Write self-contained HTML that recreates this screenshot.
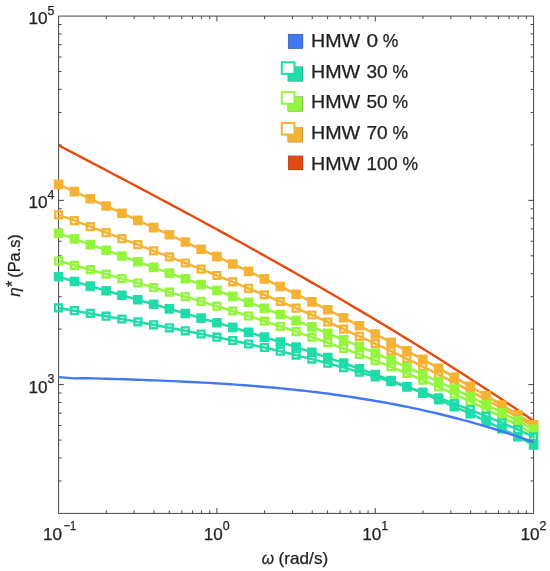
<!DOCTYPE html>
<html lang="en"><head><meta charset="utf-8"><title>Complex viscosity vs angular frequency</title>
<style>
html,body{margin:0;padding:0;background:#fff;}
body{width:550px;height:571px;overflow:hidden;}
svg{display:block;}
</style></head><body>
<svg width="550" height="571" viewBox="0 0 550 571">
<rect width="550" height="571" fill="#ffffff"/>
<g stroke="#474747" stroke-width="1" fill="none" shape-rendering="auto">
<rect x="58.6" y="16.1" width="475.0" height="497.29999999999995"/>
<path d="M106.26 513.4v-3.0M106.26 16.1v3.0M134.14 513.4v-3.0M134.14 16.1v3.0M153.93 513.4v-3.0M153.93 16.1v3.0M169.27 513.4v-3.0M169.27 16.1v3.0M181.81 513.4v-3.0M181.81 16.1v3.0M192.41 513.4v-3.0M192.41 16.1v3.0M201.59 513.4v-3.0M201.59 16.1v3.0M209.69 513.4v-3.0M209.69 16.1v3.0M216.93 513.4v-5.3M216.93 16.1v5.3M264.60 513.4v-3.0M264.60 16.1v3.0M292.48 513.4v-3.0M292.48 16.1v3.0M312.26 513.4v-3.0M312.26 16.1v3.0M327.60 513.4v-3.0M327.60 16.1v3.0M340.14 513.4v-3.0M340.14 16.1v3.0M350.74 513.4v-3.0M350.74 16.1v3.0M359.92 513.4v-3.0M359.92 16.1v3.0M368.02 513.4v-3.0M368.02 16.1v3.0M375.27 513.4v-5.3M375.27 16.1v5.3M422.93 513.4v-3.0M422.93 16.1v3.0M450.81 513.4v-3.0M450.81 16.1v3.0M470.59 513.4v-3.0M470.59 16.1v3.0M485.94 513.4v-3.0M485.94 16.1v3.0M498.47 513.4v-3.0M498.47 16.1v3.0M509.07 513.4v-3.0M509.07 16.1v3.0M518.26 513.4v-3.0M518.26 16.1v3.0M526.36 513.4v-3.0M526.36 16.1v3.0M58.6 480.95h3.0M533.6 480.95h-3.0M58.6 457.93h3.0M533.6 457.93h-3.0M58.6 440.08h3.0M533.6 440.08h-3.0M58.6 425.49h3.0M533.6 425.49h-3.0M58.6 413.15h3.0M533.6 413.15h-3.0M58.6 402.47h3.0M533.6 402.47h-3.0M58.6 393.04h3.0M533.6 393.04h-3.0M58.6 384.61h5.3M533.6 384.61h-5.3M58.6 329.14h3.0M533.6 329.14h-3.0M58.6 296.70h3.0M533.6 296.70h-3.0M58.6 273.68h3.0M533.6 273.68h-3.0M58.6 255.82h3.0M533.6 255.82h-3.0M58.6 241.23h3.0M533.6 241.23h-3.0M58.6 228.90h3.0M533.6 228.90h-3.0M58.6 218.21h3.0M533.6 218.21h-3.0M58.6 208.79h3.0M533.6 208.79h-3.0M58.6 200.36h5.3M533.6 200.36h-5.3M58.6 144.89h3.0M533.6 144.89h-3.0M58.6 112.44h3.0M533.6 112.44h-3.0M58.6 89.42h3.0M533.6 89.42h-3.0M58.6 71.57h3.0M533.6 71.57h-3.0M58.6 56.98h3.0M533.6 56.98h-3.0M58.6 44.64h3.0M533.6 44.64h-3.0M58.6 33.96h3.0M533.6 33.96h-3.0M58.6 24.53h3.0M533.6 24.53h-3.0"/>
</g>
<path d="M58.6 145.4 L64.6 148.5 L70.6 151.6 L76.6 154.8 L82.7 157.9 L88.7 161.1 L94.7 164.2 L100.7 167.4 L106.7 170.5 L112.7 173.7 L118.7 176.9 L124.7 180.0 L130.8 183.2 L136.8 186.4 L142.8 189.6 L148.8 192.8 L154.8 196.0 L160.8 199.2 L166.8 202.4 L172.8 205.6 L178.9 208.8 L184.9 212.1 L190.9 215.3 L196.9 218.5 L202.9 221.8 L208.9 225.1 L214.9 228.3 L220.9 231.6 L227.0 234.9 L233.0 238.2 L239.0 241.5 L245.0 244.8 L251.0 248.2 L257.0 251.5 L263.0 254.9 L269.0 258.2 L275.1 261.6 L281.1 265.0 L287.1 268.4 L293.1 271.8 L299.1 275.2 L305.1 278.6 L311.1 282.1 L317.1 285.5 L323.2 289.0 L329.2 292.5 L335.2 296.0 L341.2 299.5 L347.2 303.0 L353.2 306.6 L359.2 310.1 L365.2 313.7 L371.3 317.3 L377.3 320.9 L383.3 324.5 L389.3 328.1 L395.3 331.8 L401.3 335.5 L407.3 339.1 L413.3 342.8 L419.4 346.6 L425.4 350.3 L431.4 354.0 L437.4 357.8 L443.4 361.6 L449.4 365.4 L455.4 369.2 L461.4 373.1 L467.5 377.0 L473.5 380.9 L479.5 384.8 L485.5 388.7 L491.5 392.6 L497.5 396.6 L503.5 400.6 L509.5 404.6 L515.6 408.6 L521.6 412.7 L527.6 416.8 L533.6 420.9" fill="none" stroke="#e64a10" stroke-width="2.4" stroke-linejoin="round"/>
<path d="M58.6 184.4 L74.4 191.6 L90.3 198.8 L106.1 206.0 L121.9 213.2 L137.8 220.4 L153.6 227.6 L169.4 234.8 L185.3 242.0 L201.1 249.3 L216.9 256.6 L232.8 264.0 L248.6 271.4 L264.4 278.9 L280.3 286.5 L296.1 294.2 L311.9 301.9 L327.8 309.8 L343.6 317.7 L359.4 325.8 L375.3 334.0 L391.1 342.3 L406.9 350.8 L422.8 359.4 L438.6 368.2 L454.4 377.2 L470.3 386.3 L486.1 395.6 L501.9 405.1 L517.8 414.8 L533.6 424.7" fill="none" stroke="#f6b233" stroke-width="2.5"/>
<path d="M53.8 179.6h9.6v9.6h-9.6zM69.6 186.8h9.6v9.6h-9.6zM85.5 194.0h9.6v9.6h-9.6zM101.3 201.2h9.6v9.6h-9.6zM117.1 208.4h9.6v9.6h-9.6zM133.0 215.6h9.6v9.6h-9.6zM148.8 222.8h9.6v9.6h-9.6zM164.6 230.0h9.6v9.6h-9.6zM180.5 237.2h9.6v9.6h-9.6zM196.3 244.5h9.6v9.6h-9.6zM212.1 251.8h9.6v9.6h-9.6zM228.0 259.2h9.6v9.6h-9.6zM243.8 266.6h9.6v9.6h-9.6zM259.6 274.1h9.6v9.6h-9.6zM275.5 281.7h9.6v9.6h-9.6zM291.3 289.4h9.6v9.6h-9.6zM307.1 297.1h9.6v9.6h-9.6zM323.0 305.0h9.6v9.6h-9.6zM338.8 312.9h9.6v9.6h-9.6zM354.6 321.0h9.6v9.6h-9.6zM370.5 329.2h9.6v9.6h-9.6zM386.3 337.5h9.6v9.6h-9.6zM402.1 346.0h9.6v9.6h-9.6zM418.0 354.6h9.6v9.6h-9.6zM433.8 363.4h9.6v9.6h-9.6zM449.6 372.4h9.6v9.6h-9.6zM465.5 381.5h9.6v9.6h-9.6zM481.3 390.8h9.6v9.6h-9.6zM497.1 400.3h9.6v9.6h-9.6zM513.0 410.0h9.6v9.6h-9.6zM528.8 419.9h9.6v9.6h-9.6z" fill="#f6b233"/>
<path d="M58.6 214.8 L74.4 220.7 L90.3 226.7 L106.1 232.7 L121.9 238.7 L137.8 244.7 L153.6 250.8 L169.4 256.9 L185.3 263.0 L201.1 269.2 L216.9 275.5 L232.8 281.9 L248.6 288.3 L264.4 294.9 L280.3 301.5 L296.1 308.2 L311.9 315.0 L327.8 322.0 L343.6 329.1 L359.4 336.3 L375.3 343.6 L391.1 351.1 L406.9 358.8 L422.8 366.6 L438.6 374.6 L454.4 382.7 L470.3 391.1 L486.1 399.6 L501.9 408.4 L517.8 417.3 L533.6 426.5" fill="none" stroke="#f6b233" stroke-width="2.5"/>
<path d="M55.2 211.4h6.8v6.8h-6.8zM71.0 217.3h6.8v6.8h-6.8zM86.9 223.3h6.8v6.8h-6.8zM102.7 229.3h6.8v6.8h-6.8zM118.5 235.3h6.8v6.8h-6.8zM134.4 241.3h6.8v6.8h-6.8zM150.2 247.4h6.8v6.8h-6.8zM166.0 253.5h6.8v6.8h-6.8zM181.9 259.6h6.8v6.8h-6.8zM197.7 265.8h6.8v6.8h-6.8zM213.5 272.1h6.8v6.8h-6.8zM229.4 278.5h6.8v6.8h-6.8zM245.2 284.9h6.8v6.8h-6.8zM261.0 291.5h6.8v6.8h-6.8zM276.9 298.1h6.8v6.8h-6.8zM292.7 304.8h6.8v6.8h-6.8zM308.5 311.6h6.8v6.8h-6.8zM324.4 318.6h6.8v6.8h-6.8zM340.2 325.7h6.8v6.8h-6.8zM356.0 332.9h6.8v6.8h-6.8zM371.9 340.2h6.8v6.8h-6.8zM387.7 347.7h6.8v6.8h-6.8zM403.5 355.4h6.8v6.8h-6.8zM419.4 363.2h6.8v6.8h-6.8zM435.2 371.2h6.8v6.8h-6.8zM451.0 379.3h6.8v6.8h-6.8zM466.9 387.7h6.8v6.8h-6.8zM482.7 396.2h6.8v6.8h-6.8zM498.5 405.0h6.8v6.8h-6.8zM514.4 413.9h6.8v6.8h-6.8zM530.2 423.1h6.8v6.8h-6.8z" fill="none" stroke="#f6b233" stroke-width="2.4"/>
<path d="M58.6 233.2 L74.4 238.9 L90.3 244.6 L106.1 250.3 L121.9 256.0 L137.8 261.7 L153.6 267.4 L169.4 273.1 L185.3 278.8 L201.1 284.6 L216.9 290.5 L232.8 296.4 L248.6 302.3 L264.4 308.3 L280.3 314.5 L296.1 320.6 L311.9 326.9 L327.8 333.3 L343.6 339.8 L359.4 346.4 L375.3 353.2 L391.1 360.1 L406.9 367.1 L422.8 374.3 L438.6 381.6 L454.4 389.1 L470.3 396.8 L486.1 404.6 L501.9 412.7 L517.8 420.9 L533.6 429.4" fill="none" stroke="#93f63c" stroke-width="2.5"/>
<path d="M53.8 228.4h9.6v9.6h-9.6zM69.6 234.1h9.6v9.6h-9.6zM85.5 239.8h9.6v9.6h-9.6zM101.3 245.5h9.6v9.6h-9.6zM117.1 251.2h9.6v9.6h-9.6zM133.0 256.9h9.6v9.6h-9.6zM148.8 262.6h9.6v9.6h-9.6zM164.6 268.3h9.6v9.6h-9.6zM180.5 274.0h9.6v9.6h-9.6zM196.3 279.8h9.6v9.6h-9.6zM212.1 285.7h9.6v9.6h-9.6zM228.0 291.6h9.6v9.6h-9.6zM243.8 297.5h9.6v9.6h-9.6zM259.6 303.5h9.6v9.6h-9.6zM275.5 309.7h9.6v9.6h-9.6zM291.3 315.8h9.6v9.6h-9.6zM307.1 322.1h9.6v9.6h-9.6zM323.0 328.5h9.6v9.6h-9.6zM338.8 335.0h9.6v9.6h-9.6zM354.6 341.6h9.6v9.6h-9.6zM370.5 348.4h9.6v9.6h-9.6zM386.3 355.3h9.6v9.6h-9.6zM402.1 362.3h9.6v9.6h-9.6zM418.0 369.5h9.6v9.6h-9.6zM433.8 376.8h9.6v9.6h-9.6zM449.6 384.3h9.6v9.6h-9.6zM465.5 392.0h9.6v9.6h-9.6zM481.3 399.8h9.6v9.6h-9.6zM497.1 407.9h9.6v9.6h-9.6zM513.0 416.1h9.6v9.6h-9.6zM528.8 424.6h9.6v9.6h-9.6z" fill="#93f63c"/>
<path d="M58.6 261.0 L74.4 265.3 L90.3 269.7 L106.1 274.1 L121.9 278.6 L137.8 283.0 L153.6 287.5 L169.4 292.1 L185.3 296.7 L201.1 301.4 L216.9 306.2 L232.8 311.0 L248.6 316.0 L264.4 321.1 L280.3 326.3 L296.1 331.6 L311.9 337.1 L327.8 342.7 L343.6 348.5 L359.4 354.4 L375.3 360.6 L391.1 366.9 L406.9 373.4 L422.8 380.1 L438.6 387.0 L454.4 394.2 L470.3 401.6 L486.1 409.2 L501.9 417.1 L517.8 425.3 L533.6 433.7" fill="none" stroke="#93f63c" stroke-width="2.5"/>
<path d="M55.2 257.6h6.8v6.8h-6.8zM71.0 261.9h6.8v6.8h-6.8zM86.9 266.3h6.8v6.8h-6.8zM102.7 270.7h6.8v6.8h-6.8zM118.5 275.2h6.8v6.8h-6.8zM134.4 279.6h6.8v6.8h-6.8zM150.2 284.1h6.8v6.8h-6.8zM166.0 288.7h6.8v6.8h-6.8zM181.9 293.3h6.8v6.8h-6.8zM197.7 298.0h6.8v6.8h-6.8zM213.5 302.8h6.8v6.8h-6.8zM229.4 307.6h6.8v6.8h-6.8zM245.2 312.6h6.8v6.8h-6.8zM261.0 317.7h6.8v6.8h-6.8zM276.9 322.9h6.8v6.8h-6.8zM292.7 328.2h6.8v6.8h-6.8zM308.5 333.7h6.8v6.8h-6.8zM324.4 339.3h6.8v6.8h-6.8zM340.2 345.1h6.8v6.8h-6.8zM356.0 351.0h6.8v6.8h-6.8zM371.9 357.2h6.8v6.8h-6.8zM387.7 363.5h6.8v6.8h-6.8zM403.5 370.0h6.8v6.8h-6.8zM419.4 376.7h6.8v6.8h-6.8zM435.2 383.6h6.8v6.8h-6.8zM451.0 390.8h6.8v6.8h-6.8zM466.9 398.2h6.8v6.8h-6.8zM482.7 405.8h6.8v6.8h-6.8zM498.5 413.7h6.8v6.8h-6.8zM514.4 421.9h6.8v6.8h-6.8zM530.2 430.3h6.8v6.8h-6.8z" fill="none" stroke="#93f63c" stroke-width="2.4"/>
<path d="M58.6 276.8 L74.4 281.5 L90.3 286.1 L106.1 290.7 L121.9 295.2 L137.8 299.8 L153.6 304.3 L169.4 308.9 L185.3 313.5 L201.1 318.1 L216.9 322.7 L232.8 327.4 L248.6 332.2 L264.4 337.1 L280.3 342.0 L296.1 347.1 L311.9 352.3 L327.8 357.6 L343.6 363.1 L359.4 368.7 L375.3 374.5 L391.1 380.5 L406.9 386.7 L422.8 393.1 L438.6 399.8 L454.4 406.6 L470.3 413.7 L486.1 421.1 L501.9 428.7 L517.8 436.7 L533.6 444.9" fill="none" stroke="#1fdcaa" stroke-width="2.5"/>
<path d="M53.8 272.0h9.6v9.6h-9.6zM69.6 276.7h9.6v9.6h-9.6zM85.5 281.3h9.6v9.6h-9.6zM101.3 285.9h9.6v9.6h-9.6zM117.1 290.4h9.6v9.6h-9.6zM133.0 295.0h9.6v9.6h-9.6zM148.8 299.5h9.6v9.6h-9.6zM164.6 304.1h9.6v9.6h-9.6zM180.5 308.7h9.6v9.6h-9.6zM196.3 313.3h9.6v9.6h-9.6zM212.1 317.9h9.6v9.6h-9.6zM228.0 322.6h9.6v9.6h-9.6zM243.8 327.4h9.6v9.6h-9.6zM259.6 332.3h9.6v9.6h-9.6zM275.5 337.2h9.6v9.6h-9.6zM291.3 342.3h9.6v9.6h-9.6zM307.1 347.5h9.6v9.6h-9.6zM323.0 352.8h9.6v9.6h-9.6zM338.8 358.3h9.6v9.6h-9.6zM354.6 363.9h9.6v9.6h-9.6zM370.5 369.7h9.6v9.6h-9.6zM386.3 375.7h9.6v9.6h-9.6zM402.1 381.9h9.6v9.6h-9.6zM418.0 388.3h9.6v9.6h-9.6zM433.8 395.0h9.6v9.6h-9.6zM449.6 401.8h9.6v9.6h-9.6zM465.5 408.9h9.6v9.6h-9.6zM481.3 416.3h9.6v9.6h-9.6zM497.1 423.9h9.6v9.6h-9.6zM513.0 431.9h9.6v9.6h-9.6zM528.8 440.1h9.6v9.6h-9.6z" fill="#1fdcaa"/>
<path d="M58.6 307.9 L74.4 310.7 L90.3 313.4 L106.1 316.2 L121.9 319.0 L137.8 321.9 L153.6 324.8 L169.4 327.8 L185.3 330.8 L201.1 334.0 L216.9 337.2 L232.8 340.5 L248.6 344.0 L264.4 347.5 L280.3 351.2 L296.1 355.1 L311.9 359.1 L327.8 363.2 L343.6 367.6 L359.4 372.1 L375.3 376.8 L391.1 381.7 L406.9 386.9 L422.8 392.2 L438.6 397.8 L454.4 403.7 L470.3 409.8 L486.1 416.2 L501.9 422.8 L517.8 429.7 L533.6 436.9" fill="none" stroke="#1fdcaa" stroke-width="2.5"/>
<path d="M55.2 304.5h6.8v6.8h-6.8zM71.0 307.3h6.8v6.8h-6.8zM86.9 310.0h6.8v6.8h-6.8zM102.7 312.8h6.8v6.8h-6.8zM118.5 315.6h6.8v6.8h-6.8zM134.4 318.5h6.8v6.8h-6.8zM150.2 321.4h6.8v6.8h-6.8zM166.0 324.4h6.8v6.8h-6.8zM181.9 327.4h6.8v6.8h-6.8zM197.7 330.6h6.8v6.8h-6.8zM213.5 333.8h6.8v6.8h-6.8zM229.4 337.1h6.8v6.8h-6.8zM245.2 340.6h6.8v6.8h-6.8zM261.0 344.1h6.8v6.8h-6.8zM276.9 347.8h6.8v6.8h-6.8zM292.7 351.7h6.8v6.8h-6.8zM308.5 355.7h6.8v6.8h-6.8zM324.4 359.8h6.8v6.8h-6.8zM340.2 364.2h6.8v6.8h-6.8zM356.0 368.7h6.8v6.8h-6.8zM371.9 373.4h6.8v6.8h-6.8zM387.7 378.3h6.8v6.8h-6.8zM403.5 383.5h6.8v6.8h-6.8zM419.4 388.8h6.8v6.8h-6.8zM435.2 394.4h6.8v6.8h-6.8zM451.0 400.3h6.8v6.8h-6.8zM466.9 406.4h6.8v6.8h-6.8zM482.7 412.8h6.8v6.8h-6.8zM498.5 419.4h6.8v6.8h-6.8zM514.4 426.3h6.8v6.8h-6.8zM530.2 433.5h6.8v6.8h-6.8z" fill="none" stroke="#1fdcaa" stroke-width="2.4"/>
<path d="M58.6 377.1 L74.4 378.4 L82.7 378.1 L88.7 378.3 L94.7 378.4 L100.7 378.6 L106.7 378.8 L112.7 379.0 L118.7 379.1 L124.7 379.3 L130.8 379.5 L136.8 379.7 L142.8 379.9 L148.8 380.2 L154.8 380.4 L160.8 380.6 L166.8 380.9 L172.8 381.1 L178.9 381.4 L184.9 381.7 L190.9 382.0 L196.9 382.3 L202.9 382.6 L208.9 382.9 L214.9 383.3 L220.9 383.6 L227.0 384.0 L233.0 384.4 L239.0 384.9 L245.0 385.3 L251.0 385.8 L257.0 386.2 L263.0 386.7 L269.0 387.3 L275.1 387.8 L281.1 388.4 L287.1 389.0 L293.1 389.6 L299.1 390.2 L305.1 390.9 L311.1 391.6 L317.1 392.3 L323.2 393.1 L329.2 393.8 L335.2 394.7 L341.2 395.5 L347.2 396.4 L353.2 397.3 L359.2 398.2 L365.2 399.2 L371.3 400.2 L377.3 401.2 L383.3 402.3 L389.3 403.4 L395.3 404.5 L401.3 405.7 L407.3 406.9 L413.3 408.1 L419.4 409.4 L425.4 410.8 L431.4 412.1 L437.4 413.5 L443.4 415.0 L449.4 416.5 L455.4 418.0 L461.4 419.6 L467.5 421.2 L473.5 422.9 L479.5 424.6 L485.5 426.4 L491.5 428.2 L497.5 430.0 L503.5 431.9 L509.5 433.9 L515.6 435.9 L521.6 437.9 L527.6 440.0 L533.6 442.2" fill="none" stroke="#4379f0" stroke-width="2.4" stroke-linejoin="round"/>
<g font-family="'Liberation Sans', sans-serif" fill="#1f1f1f" stroke="#1f1f1f" stroke-width="0.25">
<text x="28.5" y="392.5" font-size="16.6" textLength="19.1" lengthAdjust="spacingAndGlyphs">10</text>
<text x="47.5" y="383.0" font-size="12.4">3</text>
<text x="28.5" y="208.3" font-size="16.6" textLength="19.1" lengthAdjust="spacingAndGlyphs">10</text>
<text x="47.5" y="198.8" font-size="12.4">4</text>
<text x="28.5" y="24.0" font-size="16.6" textLength="19.1" lengthAdjust="spacingAndGlyphs">10</text>
<text x="47.5" y="14.5" font-size="12.4">5</text>
<text x="42.9" y="539.7" font-size="16.6" textLength="19.1" lengthAdjust="spacingAndGlyphs">10</text>
<text x="63.5" y="530.0" font-size="12.4" textLength="12.6" lengthAdjust="spacingAndGlyphs">−1</text>
<text x="203.8" y="539.7" font-size="16.6" textLength="19.1" lengthAdjust="spacingAndGlyphs">10</text>
<text x="222.8" y="530.2" font-size="12.4">0</text>
<text x="362.2" y="539.7" font-size="16.6" textLength="19.1" lengthAdjust="spacingAndGlyphs">10</text>
<text x="381.2" y="530.2" font-size="12.4">1</text>
<text x="520.5" y="539.7" font-size="16.6" textLength="19.1" lengthAdjust="spacingAndGlyphs">10</text>
<text x="539.5" y="530.2" font-size="12.4">2</text>
<text y="563.5" font-size="16.5"><tspan x="261.8" font-style="italic" font-size="15.8">ω</tspan> <tspan x="278.6" textLength="49.6" lengthAdjust="spacingAndGlyphs">(rad/s)</tspan></text>
<text transform="translate(19.9 265.2) rotate(-90)" font-size="16.5"><tspan x="-31.6" font-style="italic" font-size="17">η</tspan><tspan dy="-1.5" dx="0.3">*</tspan> <tspan x="-12.6" dy="1.5" textLength="43.6" lengthAdjust="spacingAndGlyphs">(Pa.s)</tspan></text>
<rect x="288.1" y="34.1" width="14.9" height="14.7" fill="#4379f0"/>
<text y="46.9" font-size="17.6"><tspan x="311.0" textLength="49.2" lengthAdjust="spacingAndGlyphs">HMW</tspan> <tspan x="366.5" textLength="11.6" lengthAdjust="spacingAndGlyphs">0</tspan> <tspan x="382.8" textLength="15.6" lengthAdjust="spacingAndGlyphs">%</tspan></text>
<rect x="287.9" y="66.8" width="15" height="14.5" fill="#1fdcaa"/>
<rect x="281.8" y="62.2" width="12.7" height="11.6" fill="#fff" stroke="#1fdcaa" stroke-width="2"/>
<text y="77.8" font-size="17.6"><tspan x="311.0" textLength="49.2" lengthAdjust="spacingAndGlyphs">HMW</tspan> <tspan x="366.5" textLength="21.2" lengthAdjust="spacingAndGlyphs">30</tspan> <tspan x="392.4" textLength="15.6" lengthAdjust="spacingAndGlyphs">%</tspan></text>
<rect x="287.9" y="96.8" width="15" height="14.5" fill="#93f63c"/>
<rect x="281.8" y="92.2" width="12.7" height="11.6" fill="#fff" stroke="#93f63c" stroke-width="2"/>
<text y="108.4" font-size="17.6"><tspan x="311.0" textLength="49.2" lengthAdjust="spacingAndGlyphs">HMW</tspan> <tspan x="366.5" textLength="21.2" lengthAdjust="spacingAndGlyphs">50</tspan> <tspan x="392.4" textLength="15.6" lengthAdjust="spacingAndGlyphs">%</tspan></text>
<rect x="287.9" y="127.6" width="15" height="14.5" fill="#f6b233"/>
<rect x="281.8" y="123.0" width="12.7" height="11.6" fill="#fff" stroke="#f6b233" stroke-width="2"/>
<text y="139.0" font-size="17.6"><tspan x="311.0" textLength="49.2" lengthAdjust="spacingAndGlyphs">HMW</tspan> <tspan x="366.5" textLength="21.2" lengthAdjust="spacingAndGlyphs">70</tspan> <tspan x="392.4" textLength="15.6" lengthAdjust="spacingAndGlyphs">%</tspan></text>
<rect x="288.1" y="155.9" width="14.9" height="14.1" fill="#e64a10"/>
<text y="169.6" font-size="17.6"><tspan x="311.0" textLength="49.2" lengthAdjust="spacingAndGlyphs">HMW</tspan> <tspan x="366.5" textLength="31.3" lengthAdjust="spacingAndGlyphs">100</tspan> <tspan x="402.5" textLength="15.6" lengthAdjust="spacingAndGlyphs">%</tspan></text>
</g>
</svg>
</body></html>
